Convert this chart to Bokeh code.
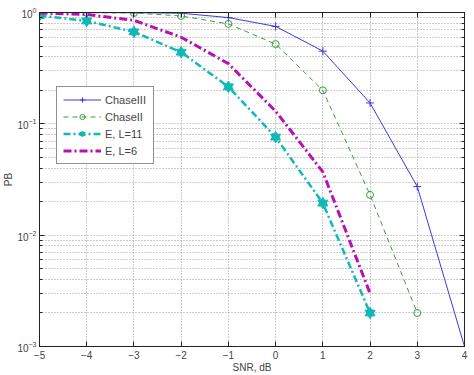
from bokeh.plotting import figure
from bokeh.models import (Legend, LegendItem, FixedTicker, LinearAxis, LogAxis, Range1d)
from bokeh.embed import file_html
from bokeh.resources import INLINE

# ---- data ----
snr = [-5, -4, -3, -2, -1, 0, 1, 2, 3, 4]
chase3 = [1.0, 1.0, 0.995, 0.985, 0.90, 0.75, 0.45, 0.154, 0.0273, 0.001]
snr2 = [-5, -4, -3, -2, -1, 0, 1, 2, 3]
chase2 = [1.0, 0.995, 0.99, 0.93, 0.79, 0.52, 0.20, 0.023, 0.0020]
snr_e = [-5, -4, -3, -2, -1, 0, 1, 2]
e_l11 = [0.94, 0.84, 0.67, 0.44, 0.215, 0.076, 0.0194, 0.0020]
e_l6 = [0.99, 0.96, 0.85, 0.60, 0.347, 0.13, 0.037, 0.0030]

x_ticks = [-5, -4, -3, -2, -1, 0, 1, 2, 3, 4]
x_labels = ["\u22125", "\u22124", "\u22123", "\u22122", "\u22121", "0", "1", "2", "3", "4"]
y_ticks = [0.001, 0.01, 0.1, 1.0]
y_minor = [m * d for d in [0.001, 0.01, 0.1] for m in range(2, 10)]
x_title = "SNR, dB"
y_title = "PB"

FONT = "Liberation Sans"
AX = "#222222"

p = figure(width=474, height=375, output_backend="svg", toolbar_location=None,
           y_axis_type="log", x_range=Range1d(-5, 4), y_range=Range1d(0.001, 1.0),
           min_border_left=38, min_border_right=10, min_border_top=12, min_border_bottom=28,
           background_fill_color="white", border_fill_color="white")
p.outline_line_color = AX
p.outline_line_width = 1

p.xaxis.ticker = FixedTicker(ticks=x_ticks)
p.xaxis.major_label_overrides = {t: l for t, l in zip(x_ticks, x_labels)}
p.yaxis.ticker = FixedTicker(ticks=y_ticks, minor_ticks=y_minor)
p.xaxis.axis_label = x_title
p.yaxis.axis_label = y_title

for ax in [p.xaxis[0], p.yaxis[0]]:
    ax.major_label_text_font = FONT
    ax.major_label_text_font_size = "10px"
    ax.axis_label_text_font = FONT
    ax.axis_label_text_font_size = "10px"
    ax.axis_label_text_font_style = "normal"
    ax.axis_label_standoff = 0
    ax.major_tick_in = 5
    ax.major_tick_out = 0
    ax.minor_tick_in = 3
    ax.minor_tick_out = 0
    ax.axis_line_color = AX
    ax.major_tick_line_color = AX
    ax.minor_tick_line_color = AX
p.xaxis.major_label_standoff = 4
p.yaxis.major_label_standoff = 3
p.xaxis.minor_tick_line_color = None

top = LinearAxis(ticker=FixedTicker(ticks=x_ticks), major_label_text_font_size="0px",
                 major_label_standoff=0,
                 major_tick_in=5, major_tick_out=0, minor_tick_line_color=None,
                 axis_line_color=AX, major_tick_line_color=AX)
top.major_label_overrides = {t: "" for t in x_ticks}
p.add_layout(top, "above")
right = LogAxis(ticker=FixedTicker(ticks=y_ticks, minor_ticks=y_minor),
                major_label_text_font_size="0px", major_label_standoff=0,
                major_tick_in=5, major_tick_out=0,
                minor_tick_in=3, minor_tick_out=0,
                axis_line_color=AX, major_tick_line_color=AX,
                minor_tick_line_color=AX)
right.major_label_overrides = {t: "" for t in y_ticks}
p.add_layout(right, "right")

for g in [p.xgrid[0], p.ygrid[0]]:
    g.grid_line_color = "#9a9a9a"
    g.grid_line_dash = "1 2"
    g.grid_line_width = 1
p.ygrid.minor_grid_line_color = "#9a9a9a"
p.ygrid.minor_grid_line_dash = "1 2"

blue = "#3b3bdd"
green = "#3f9a3f"
cyan = "#11b8b8"
magenta = "#b512b5"

r1 = p.line(snr, chase3, line_color=blue, line_width=1)
r1m = p.scatter(snr, chase3, marker="cross", size=8, line_color=blue, line_width=1)
r2 = p.line(snr2, chase2, line_color=green, line_width=1, line_dash="5 4")
r2m = p.scatter(snr2, chase2, marker="circle", size=7, line_color=green, fill_color=None, line_width=1)
r3 = p.line(snr_e, e_l11, line_color=cyan, line_width=2.5, line_dash="7 3 2 3")
r3a = p.scatter(snr_e, e_l11, marker="triangle", size=10, line_color=cyan, fill_color=cyan)
r3b = p.scatter(snr_e, e_l11, marker="inverted_triangle", size=10, line_color=cyan, fill_color=cyan)
r4 = p.line(snr_e, e_l6, line_color=magenta, line_width=3, line_dash="8 3 2 3")

legend = Legend(items=[
    LegendItem(label="ChaseIII", renderers=[r1, r1m]),
    LegendItem(label="ChaseII", renderers=[r2, r2m]),
    LegendItem(label="E, L=11", renderers=[r3, r3a, r3b]),
    LegendItem(label="E, L=6", renderers=[r4]),
], location=(17, 182))
legend.label_text_font = FONT
legend.label_text_font_size = "11px"
legend.border_line_color = AX
legend.border_line_width = 1
legend.background_fill_alpha = 1
legend.glyph_width = 38
legend.glyph_height = 13
legend.label_height = 13
legend.spacing = 4
legend.padding = 6
legend.margin = 0
legend.label_standoff = 4
legend.label_width = 42
p.add_layout(legend, "center")

open("out.html", "w").write(file_html(p, INLINE))
